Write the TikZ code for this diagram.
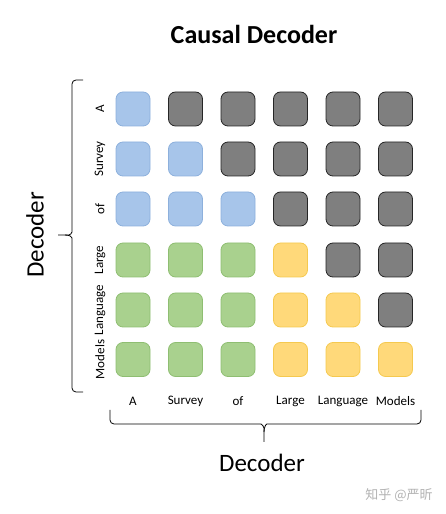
\documentclass[tikz,border=0pt]{standalone}
\usepackage{fontspec}
\setmainfont{Carlito}
\newfontfamily\cjkfont{Noto Sans CJK SC}
\definecolor{tokBlue}{HTML}{A7C5EA}
\definecolor{tokBlueLine}{HTML}{8DB0DC}
\definecolor{tokGreen}{HTML}{A9D18E}
\definecolor{tokGreenLine}{HTML}{8FBE72}
\definecolor{tokYellow}{HTML}{FFD97A}
\definecolor{tokYellowLine}{HTML}{F5C94F}
\definecolor{tokGray}{HTML}{7F7F7F}
\definecolor{tokGrayLine}{HTML}{262626}

\begin{document}
\begin{tikzpicture}[x=50pt, y=50pt,
    cell/.style={rectangle, rounded corners=7pt, minimum size=34pt, inner sep=0pt, line width=0.8pt},
    blueCell/.style={cell, fill=tokBlue, draw=tokBlueLine},
    greenCell/.style={cell, fill=tokGreen, draw=tokGreenLine},
    yellowCell/.style={cell, fill=tokYellow, draw=tokYellowLine},
    maskCell/.style={cell, fill=tokGray, draw=tokGrayLine},
    token/.style={font=\fontsize{13}{15}\selectfont},
    bigLabel/.style={font=\fontsize{25}{30}\selectfont},
    bracket/.style={line width=0.8pt, rounded corners=4pt}]
    \useasboundingbox (0, 0) rectangle (8.92, 10.28);

    % Title
    \node[font=\fontsize{26}{31}\selectfont\bfseries] (title) at (5.08, 9.6) {Causal Decoder};

    % Row 1: A
    \node[blueCell] (r1c1) at (2.66, 8.1) {};
    \node[maskCell] (r1c2) at (3.71, 8.1) {};
    \node[maskCell] (r1c3) at (4.76, 8.1) {};
    \node[maskCell] (r1c4) at (5.81, 8.1) {};
    \node[maskCell] (r1c5) at (6.86, 8.1) {};
    \node[maskCell] (r1c6) at (7.91, 8.1) {};

    % Row 2: Survey
    \node[blueCell] (r2c1) at (2.66, 7.1) {};
    \node[blueCell] (r2c2) at (3.71, 7.1) {};
    \node[maskCell] (r2c3) at (4.76, 7.1) {};
    \node[maskCell] (r2c4) at (5.81, 7.1) {};
    \node[maskCell] (r2c5) at (6.86, 7.1) {};
    \node[maskCell] (r2c6) at (7.91, 7.1) {};

    % Row 3: of
    \node[blueCell] (r3c1) at (2.66, 6.1) {};
    \node[blueCell] (r3c2) at (3.71, 6.1) {};
    \node[blueCell] (r3c3) at (4.76, 6.1) {};
    \node[maskCell] (r3c4) at (5.81, 6.1) {};
    \node[maskCell] (r3c5) at (6.86, 6.1) {};
    \node[maskCell] (r3c6) at (7.91, 6.1) {};

    % Row 4: Large
    \node[greenCell] (r4c1) at (2.66, 5.08) {};
    \node[greenCell] (r4c2) at (3.71, 5.08) {};
    \node[greenCell] (r4c3) at (4.76, 5.08) {};
    \node[yellowCell] (r4c4) at (5.81, 5.08) {};
    \node[maskCell] (r4c5) at (6.86, 5.08) {};
    \node[maskCell] (r4c6) at (7.91, 5.08) {};

    % Row 5: Language
    \node[greenCell] (r5c1) at (2.66, 4.08) {};
    \node[greenCell] (r5c2) at (3.71, 4.08) {};
    \node[greenCell] (r5c3) at (4.76, 4.08) {};
    \node[yellowCell] (r5c4) at (5.81, 4.08) {};
    \node[yellowCell] (r5c5) at (6.86, 4.08) {};
    \node[maskCell] (r5c6) at (7.91, 4.08) {};

    % Row 6: Models
    \node[greenCell] (r6c1) at (2.66, 3.09) {};
    \node[greenCell] (r6c2) at (3.71, 3.09) {};
    \node[greenCell] (r6c3) at (4.76, 3.09) {};
    \node[yellowCell] (r6c4) at (5.81, 3.09) {};
    \node[yellowCell] (r6c5) at (6.86, 3.09) {};
    \node[yellowCell] (r6c6) at (7.91, 3.09) {};

    % Row tokens
    \node[token, rotate=90] (rowA) at (2.0, 8.1) {A};
    \node[token, rotate=90] (rowSurvey) at (2.0, 7.1) {Survey};
    \node[token, rotate=90] (rowOf) at (2.0, 6.1) {of};
    \node[token, rotate=90] (rowLarge) at (2.0, 5.08) {Large};
    \node[token, rotate=90] (rowLanguage) at (2.0, 4.08) {Language};
    \node[token, rotate=90] (rowModels) at (2.0, 3.09) {Models};

    % Column tokens
    \node[token] (colA) at (2.66, 2.26) {A};
    \node[token] (colSurvey) at (3.71, 2.26) {Survey};
    \node[token] (colOf) at (4.76, 2.26) {of};
    \node[token] (colLarge) at (5.81, 2.26) {Large};
    \node[token] (colLanguage) at (6.86, 2.26) {Language};
    \node[token] (colModels) at (7.91, 2.26) {Models};

    % Left brace
    \coordinate (leftBot) at (1.66, 2.44);
    \coordinate (leftTop) at (1.66, 8.68);
    \coordinate (leftTip) at (1.16, 5.58);
    \draw[bracket] (leftTop) -- (1.44, 8.68) -- (1.44, 5.72)
        .. controls (1.44, 5.62) and (1.40, 5.58) .. (1.30, 5.58) -- (leftTip);
    \draw[bracket] (leftBot) -- (1.44, 2.44) -- (1.44, 5.44)
        .. controls (1.44, 5.54) and (1.40, 5.58) .. (1.30, 5.58);
    \node[bigLabel, rotate=90] (leftDecoder) at (0.7, 5.58) {Decoder};

    % Bottom brace
    \coordinate (botLeft) at (2.2, 2.08);
    \coordinate (botRight) at (8.42, 2.08);
    \coordinate (botTip) at (5.28, 1.44);
    \draw[bracket] (botLeft) -- (2.2, 1.8) -- (5.14, 1.8)
        .. controls (5.24, 1.8) and (5.28, 1.74) .. (5.28, 1.64) -- (botTip);
    \draw[bracket] (botRight) -- (8.42, 1.8) -- (5.42, 1.8)
        .. controls (5.32, 1.8) and (5.28, 1.74) .. (5.28, 1.64);
    \node[bigLabel] (botDecoder) at (5.24, 1.02) {Decoder};

    % Watermark
    \node[font=\fontsize{13}{15}\cjkfont, text=black!30] (mark) at (7.98, 0.38) {知乎 @严昕};
\end{tikzpicture}
\end{document}
